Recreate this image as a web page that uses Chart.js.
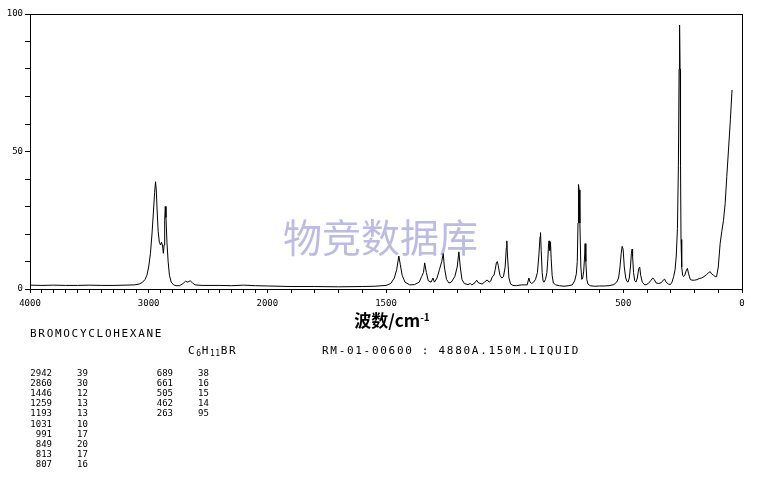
<!DOCTYPE html>
<html lang="zh">
<head>
<meta charset="utf-8">
<title>BROMOCYCLOHEXANE Raman</title>
<script src="https://cdn.jsdelivr.net/npm/chart.js@4.4.0/dist/chart.umd.min.js"></script>
<style>
    html, body { margin: 0; padding: 0; background: #fff; }
    #wrap { position: relative; width: 761px; height: 477px; overflow: hidden; background: #fff; }
    #spectrum { position: absolute; left: 0; top: 0; }
    .txt { position: absolute; font-family: "DejaVu Sans Mono", monospace; color: #000; white-space: pre; }
    .big { font-size: 11px; line-height: 12px; letter-spacing: 1.7px; }
    .big sub { font-size: 8px; vertical-align: -2px; letter-spacing: 0.5px; }
    .peak { font-size: 9px; line-height: 10px; }
    .peak.wn { width: 40px; text-align: right; }
    #xtitle { position: absolute; left: 332px; top: 310px; width: 120px; text-align: center;
              font-family: "Noto Sans CJK SC", sans-serif; font-weight: bold; font-size: 17px; line-height: 20px; color: #000; }
    #xtitle sup { font-size: 10px; vertical-align: 6px; line-height: 0; }
    #watermark { position: absolute; left: 283px; top: 213px; font-family: "Noto Sans CJK SC", sans-serif;
                 font-size: 39px; line-height: 44px; color: rgba(120, 120, 200, 0.5); white-space: nowrap; pointer-events: none; }
</style>
</head>
<body>
<div id="wrap">
    <canvas id="spectrum" width="761" height="477"></canvas>
    <div id="watermark">物竞数据库</div>
    <div id="xtitle">波数/cm<sup>-1</sup></div>
    <div class="txt big" style="left:30px; top:328px;">BROMOCYCLOHEXANE</div>
    <div class="txt big" style="left:188px; top:345px;">C<sub>6</sub>H<sub>11</sub>BR</div>
    <div class="txt big" style="left:322px; top:345px;">RM-01-00600 : 4880A.150M.LIQUID</div>
</div>
<script>
// Spectrum trace (wavenumber in cm-1, intensity)
const waveNumbers = [
    4000, 3900, 3800, 3700, 3600, 3500, 3400, 3300, 3200, 3120,
    3080, 3050, 3030, 3015, 3000, 2985, 2972, 2960, 2950, 2942,
    2936, 2928, 2920, 2910, 2900, 2892, 2884, 2876, 2870, 2865,
    2860, 2854, 2846, 2836, 2825, 2810, 2790, 2770, 2740, 2710,
    2690, 2670, 2650, 2630, 2610, 2550, 2400, 2300, 2200, 2100,
    2000, 1900, 1800, 1700, 1600, 1550, 1500, 1480, 1465, 1455,
    1446, 1440, 1432, 1420, 1400, 1380, 1360, 1350, 1342, 1337,
    1330, 1322, 1310, 1302, 1296, 1285, 1275, 1265, 1259, 1254,
    1245, 1235, 1225, 1210, 1200, 1193, 1187, 1180, 1170, 1155,
    1145, 1138, 1125, 1118, 1110, 1095, 1085, 1074, 1065, 1058,
    1052, 1045, 1040, 1035, 1031, 1027, 1020, 1012, 1005, 998,
    993, 991, 988, 982, 975, 965, 950, 930, 915, 905,
    898, 893, 886, 878, 870, 862, 856, 851, 849, 846,
    842, 838, 834, 828, 822, 818, 815, 813, 810, 807,
    804, 800, 795, 785, 770, 750, 730, 715, 705, 698,
    694, 691, 689, 686, 683, 679, 675, 671, 667, 663,
    661, 658, 654, 649, 640, 620, 600, 580, 560, 540,
    528, 520, 514, 509, 505, 501, 496, 490, 485, 480,
    475, 470, 466, 463, 461, 457, 452, 447, 441, 435,
    431, 427, 420, 410, 404, 395, 385, 376, 370, 362,
    351, 340, 332, 326, 320, 310, 302, 295, 288, 282,
    277, 272, 268, 265, 263, 261, 259, 257, 254, 250,
    246, 241, 236, 230, 225, 218, 211, 200, 190, 180,
    170, 160, 150, 140, 134, 128, 120, 113, 107, 100,
    92, 85, 78, 71, 64, 57, 49, 42
];
const intensities = [
    1.4, 1.3, 1.4, 1.3, 1.3, 1.4, 1.3, 1.3, 1.4, 1.5,
    1.8, 2.5, 3.5, 5, 8, 13, 20, 28, 35, 39,
    36, 28, 21, 17, 16, 17, 16, 13, 16, 25,
    30, 26, 17, 10, 5, 2.5, 1.5, 1.2, 1.2, 2,
    2.8, 2.5, 3, 2.2, 1.5, 1.3, 1.3, 1.2, 1.4, 1.2,
    1.1, 0.9, 0.9, 0.8, 0.9, 1.0, 1.3, 2, 4, 7,
    12, 9, 5, 2.5, 1.5, 1.6, 2.5, 4.5, 6, 9.5,
    6, 3, 2.5, 4, 2.5, 4, 7, 10, 13, 8,
    3.5, 2.2, 2.5, 4.5, 8, 13.5, 8, 3.5, 2, 1.6,
    2, 1.5, 2.3, 3.2, 2.2, 1.8, 2.5, 3.3, 2.5, 3,
    4.5, 5, 7, 9.5, 10, 8.5, 5, 4, 4.5, 8,
    15, 17.5, 12, 4, 1.8, 1.3, 1.2, 1.5, 1.5, 1.5,
    4, 2.5, 2, 2.5, 3.5, 6, 12, 19, 20.5, 14,
    6, 2.8, 2.5, 3.5, 6, 11, 16.5, 17.5, 14, 17,
    11, 5, 2.2, 1.5, 1.2, 1.0, 1.2, 1.5, 3, 5.5,
    10, 24, 38, 36, 24, 8, 3.5, 4, 6.5, 12,
    16.5, 10, 3.5, 1.8, 1.2, 1.0, 1.1, 1.1, 1.2, 1.6,
    2.5, 4, 8, 13, 15.5, 14.5, 8, 4, 2.8, 2.5,
    4, 8, 13, 14.5, 12, 6, 3, 2.5, 4, 7.5,
    8, 5, 2.5, 1.5, 1.6, 2, 3, 4, 3.5, 2.2,
    2, 2.3, 3.2, 3.6, 2.5, 1.8, 1.6, 2.5, 4.5, 7,
    12, 22, 45, 80, 96, 80, 45, 18, 8, 5,
    4.5, 5, 6.5, 7.5, 5.5, 3.5, 3.2, 3.2, 3.4, 3.8,
    4, 4.5, 5.2, 6, 6.3, 5.5, 5, 4.5, 4.5, 8,
    16.6, 21, 25, 31, 41, 50.5, 61.5, 72.4
];

// Peak list printed under the chart
const peakWavenumbers = [2942, 2860, 1446, 1259, 1193, 1031, 991, 849, 813, 807, 689, 661, 505, 462, 263];
const peakIntensities = [39, 30, 12, 13, 13, 10, 17, 20, 17, 16, 38, 16, 15, 14, 95];

// Axis labels
const xTickLabels = [4000, 3000, 2000, 1500, 500, 0];
const yTickLabels = [0, 50, 100];

// The x axis is compressed by half above 2000 cm-1
function toAxis(nu) {
    return nu <= 2000 ? nu : 2000 + (nu - 2000) / 2;
}
function fromAxis(u) {
    return u <= 2000 ? u : 2000 + (u - 2000) * 2;
}

const tickFont = { family: '"DejaVu Sans Mono", monospace', size: 9 };

// Box around the plot area
const framePlugin = {
    id: 'frame',
    afterDraw(chart) {
        const { ctx, chartArea: a } = chart;
        ctx.save();
        ctx.strokeStyle = '#000';
        ctx.lineWidth = 1;
        ctx.strokeRect(Math.round(a.left) + 0.5, Math.round(a.top) + 0.5,
            Math.round(a.right - a.left), Math.round(a.bottom - a.top));
        ctx.restore();
    }
};

function initChart() {
    const points = waveNumbers.map((nu, i) => ({ x: toAxis(nu), y: intensities[i] }));

    new Chart(document.getElementById('spectrum'), {
        type: 'scatter',
        data: {
            datasets: [{
                data: points,
                showLine: true,
                borderColor: '#000',
                borderWidth: 1,
                pointRadius: 0,
                tension: 0
            }]
        },
        options: {
            responsive: false,
            animation: false,
            layout: { padding: { top: 14, right: 19, bottom: 0, left: 0 } },
            plugins: { legend: { display: false }, tooltip: { enabled: false } },
            scales: {
                x: {
                    type: 'linear',
                    min: 0,
                    max: 3000,
                    reverse: true,
                    afterBuildTicks: (scale) => {
                        // a tick every 100 cm-1
                        const ticks = [];
                        for (let nu = 0; nu <= 4000; nu += 100) ticks.push({ value: toAxis(nu) });
                        scale.ticks = ticks;
                    },
                    afterFit: (scale) => { scale.height = 188; },
                    border: { display: false },
                    grid: { drawOnChartArea: false, drawTicks: true, tickLength: 4, color: '#000', tickColor: '#000' },
                    ticks: {
                        autoSkip: false,
                        maxRotation: 0,
                        padding: 5,
                        color: '#000',
                        font: tickFont,
                        callback: (value) => {
                            const nu = Math.round(fromAxis(value));
                            return xTickLabels.includes(nu) ? String(nu) : '';
                        }
                    }
                },
                y: {
                    min: 0,
                    max: 100,
                    afterFit: (scale) => { scale.width = 30; },
                    border: { display: false },
                    grid: { drawOnChartArea: false, drawTicks: true, tickLength: 5, color: '#000', tickColor: '#000' },
                    ticks: {
                        stepSize: 10,
                        padding: 2,
                        color: '#000',
                        font: tickFont,
                        callback: (value) => yTickLabels.includes(value) ? String(value) : ''
                    }
                }
            }
        },
        plugins: [framePlugin]
    });
}

// Peak table: two columns of wavenumber / intensity
function buildPeakTable() {
    const wrap = document.getElementById('wrap');
    peakWavenumbers.forEach((wn, i) => {
        const col = i < 10 ? 0 : 1;
        const row = col === 0 ? i : i - 10;
        const top = 368 + row * 10.1;
        const wnRight = col === 0 ? 52 : 173;
        const intLeft = col === 0 ? 77 : 198;

        const wnDiv = document.createElement('div');
        wnDiv.className = 'txt peak wn';
        wnDiv.style.left = (wnRight - 40) + 'px';
        wnDiv.style.top = top + 'px';
        wnDiv.textContent = wn;
        wrap.appendChild(wnDiv);

        const intDiv = document.createElement('div');
        intDiv.className = 'txt peak';
        intDiv.style.left = intLeft + 'px';
        intDiv.style.top = top + 'px';
        intDiv.textContent = peakIntensities[i];
        wrap.appendChild(intDiv);
    });
}

document.addEventListener('DOMContentLoaded', () => {
    initChart();
    buildPeakTable();
});
</script>
</body>
</html>
